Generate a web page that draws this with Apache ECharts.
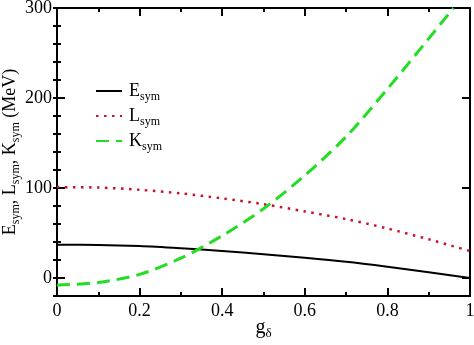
<!DOCTYPE html>
<html>
<head>
<meta charset="utf-8">
<script src="https://cdn.jsdelivr.net/npm/echarts@6/dist/echarts.min.js"></script>
<style>
  html, body { margin: 0; padding: 0; background: #fff; }
  #chart { width: 474px; height: 345px; }
</style>
</head>
<body>
<div id="chart"></div>
<script>
// Symmetry energy coefficients versus g_delta
const gGrid = [0, 0.1, 0.2, 0.3, 0.4, 0.5, 0.6, 0.7, 0.8, 0.9, 1.0];
const eSym = [37, 36.8, 35.5, 33, 30, 26.5, 22.5, 18, 12.5, 6.5, 0];
const lSym = [101, 100.5, 98, 94, 88.5, 82, 74, 65.5, 55, 43, 30];
const gK = [0, 0.1, 0.2, 0.3, 0.4, 0.5, 0.6, 0.7, 0.8, 0.9, 0.96];
const kSym = [-8, -5, 4, 22, 47, 77, 114, 157, 210, 266, 300];

const yMajor = [0, 100, 200, 300];
const seriesNames = ['E', 'L', 'K'];

const FONT = 'Liberation Serif';
const pair = (xs, ys) => xs.map((x, i) => [x, ys[i]]);

const subRich = {
  m: { fontFamily: FONT, fontSize: 18, color: '#000' },
  s: { fontFamily: FONT, fontSize: 12, color: '#000', padding: [12, 0, 0, 0] }
};

const chart = echarts.init(document.getElementById('chart'));

const xBase = {
  type: 'value', min: 0, max: 1, interval: 0.2,
  axisLine: { show: true, onZero: false, lineStyle: { color: '#000', width: 2 } },
  axisTick: { inside: true, length: 8, lineStyle: { color: '#000', width: 2 } },
  minorTick: { show: true, splitNumber: 2, length: 4, lineStyle: { color: '#000', width: 2 } },
  splitLine: { show: false }
};

const yMajorAxis = (pos, labels) => ({
  type: 'value', position: pos, min: -20, max: 300,
  axisLine: { show: true, onZero: false, lineStyle: { color: '#000', width: 2 } },
  axisTick: { inside: true, length: 8, customValues: yMajor, lineStyle: { color: '#000', width: 2 } },
  axisLabel: labels ? { customValues: yMajor, fontFamily: FONT, fontSize: 18, color: '#000', margin: 5 } : { show: false },
  splitLine: { show: false }
});

const yMinorAxis = (pos) => ({
  type: 'value', position: pos, min: -20, max: 300, interval: 20,
  axisLine: { show: false },
  axisTick: { inside: true, length: 4, lineStyle: { color: '#000', width: 2 } },
  axisLabel: { show: false },
  splitLine: { show: false }
});

chart.setOption({
  animation: false,
  backgroundColor: '#fff',
  grid: { left: 57, right: 4, top: 8, bottom: 49, containLabel: false, outerBoundsMode: 'none' },
  legend: {
    data: seriesNames,
    orient: 'vertical',
    left: 95, top: 82, padding: 0,
    itemWidth: 26, itemHeight: 14, itemGap: 4,
    selectedMode: false,
    itemStyle: { opacity: 0 },
    formatter: n => '{m|' + n + '}{s|sym}',
    textStyle: { rich: subRich, padding: [0, 0, 0, 2] }
  },
  xAxis: [
    Object.assign({}, xBase, {
      position: 'bottom',
      name: '{m|g}{s|δ}',
      nameLocation: 'middle', nameGap: 19, nameMoveOverlap: false,
      nameTextStyle: { rich: { m: { fontFamily: FONT, fontSize: 20, color: '#000' }, s: { fontFamily: FONT, fontSize: 13, color: '#000', padding: [12, 0, 0, 0] } } },
      axisLabel: { fontFamily: FONT, fontSize: 18, color: '#000', margin: 6 }
    }),
    Object.assign({}, xBase, { position: 'top', axisLabel: { show: false } })
  ],
  yAxis: [
    Object.assign(yMajorAxis('left', true), {
      name: '{m|E}{s|sym}{m|, L}{s|sym}{m|, K}{s|sym}{m| (MeV)}',
      nameLocation: 'middle', nameRotate: 90, nameGap: 35, nameMoveOverlap: false,
      nameTextStyle: { rich: subRich }
    }),
    yMinorAxis('left'),
    yMajorAxis('right', false),
    yMinorAxis('right')
  ],
  series: [
    {
      name: 'E', type: 'line', smooth: 0.3, symbol: 'none', clip: true,
      data: pair(gGrid, eSym),
      lineStyle: { color: '#000', width: 2 }, itemStyle: { color: '#000' }
    },
    {
      name: 'L', type: 'line', smooth: 0.3, symbol: 'none', clip: true,
      data: pair(gGrid, lSym),
      lineStyle: { color: '#c8102e', width: 2.5, type: [2.5, 5.5] }, itemStyle: { color: '#c8102e' }
    },
    {
      name: 'K', type: 'line', smooth: 0.3, symbol: 'none', clip: true,
      data: pair(gK, kSym),
      lineStyle: { color: '#22dd22', width: 3, type: [13, 7] }, itemStyle: { color: '#22dd22' }
    }
  ]
});
</script>
</body>
</html>
